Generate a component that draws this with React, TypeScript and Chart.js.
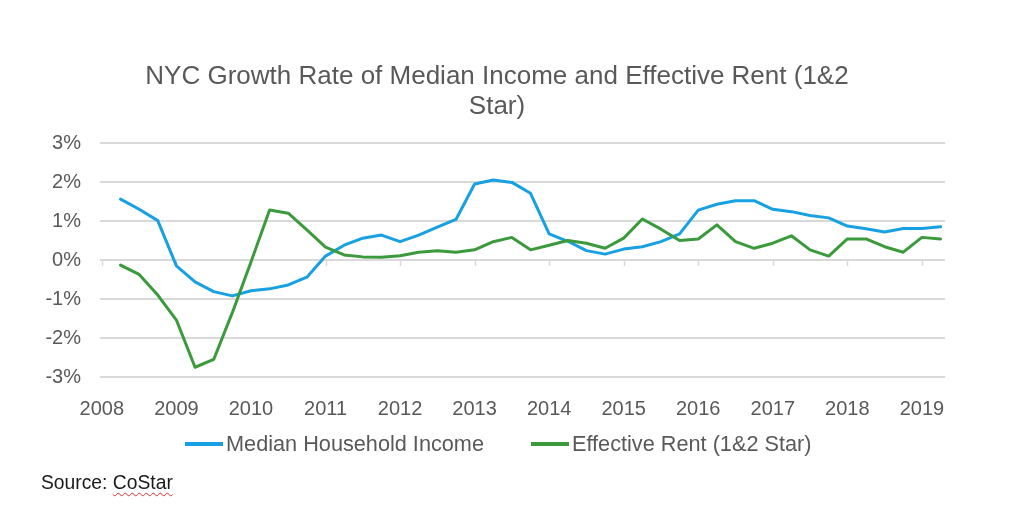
import React, { useEffect, useRef } from "react";
import { Chart, registerables } from "chart.js";

Chart.register(...registerables);

const FONT = "'Liberation Sans', Arial, Helvetica, sans-serif";

const chartTitle = ["NYC Growth Rate of Median Income and Effective Rent (1&2", "Star)"];
const seriesNames = ["Median Household Income", "Effective Rent (1&2 Star)"];
const seriesColors = ["#17a0e2", "#3b9a3b"];

const quarters = [
  "2008Q1", "2008Q2", "2008Q3", "2008Q4",
  "2009Q1", "2009Q2", "2009Q3", "2009Q4",
  "2010Q1", "2010Q2", "2010Q3", "2010Q4",
  "2011Q1", "2011Q2", "2011Q3", "2011Q4",
  "2012Q1", "2012Q2", "2012Q3", "2012Q4",
  "2013Q1", "2013Q2", "2013Q3", "2013Q4",
  "2014Q1", "2014Q2", "2014Q3", "2014Q4",
  "2015Q1", "2015Q2", "2015Q3", "2015Q4",
  "2016Q1", "2016Q2", "2016Q3", "2016Q4",
  "2017Q1", "2017Q2", "2017Q3", "2017Q4",
  "2018Q1", "2018Q2", "2018Q3", "2018Q4",
  "2019Q1",
];

const incomeGrowth = [
  1.56, 1.30, 1.01, -0.15,
  -0.56, -0.81, -0.92, -0.79,
  -0.74, -0.64, -0.44, 0.10,
  0.38, 0.56, 0.64, 0.47,
  0.64, 0.84, 1.04, 1.95,
  2.05, 1.99, 1.71, 0.67,
  0.48, 0.24, 0.15, 0.28,
  0.34, 0.47, 0.67, 1.28,
  1.43, 1.52, 1.52, 1.30,
  1.24, 1.14, 1.08, 0.87,
  0.80, 0.72, 0.81, 0.81,
  0.85,
];

const rentGrowth = [
  -0.13, -0.37, -0.90, -1.54,
  -2.75, -2.55, -1.35, -0.05,
  1.28, 1.20, 0.77, 0.33,
  0.13, 0.08, 0.07, 0.11,
  0.20, 0.24, 0.20, 0.26,
  0.47, 0.58, 0.26, 0.38,
  0.50, 0.43, 0.30, 0.56,
  1.05, 0.79, 0.50, 0.54,
  0.90, 0.47, 0.30, 0.43,
  0.62, 0.26, 0.10, 0.54,
  0.54, 0.34, 0.20, 0.58,
  0.54,
];

const yearTicks = [2008, 2009, 2010, 2011, 2012, 2013, 2014, 2015, 2016, 2017, 2018, 2019];
const percentTicks = [-3, -2, -1, 0, 1, 2, 3];

const quarterToYear = (q: string) => {
  const [y, n] = q.split("Q");
  return Number(y) + Number(n) / 4;
};

const zeroAxisTicks = {
  id: "zeroAxisTicks",
  beforeDatasetsDraw(chart: any) {
    const xs = chart.scales.x;
    const ys = chart.scales.y;
    const ctx = chart.ctx;
    const y0 = Math.round(ys.getPixelForValue(0));
    ctx.save();
    ctx.strokeStyle = "#d9d9d9";
    ctx.lineWidth = 1.5;
    xs.ticks.forEach((t: any) => {
      const px = Math.round(xs.getPixelForValue(t.value)) + 0.5;
      ctx.beginPath();
      ctx.moveTo(px, y0);
      ctx.lineTo(px, y0 + 6);
      ctx.stroke();
    });
    ctx.restore();
  },
};

export default function App() {
  const ref = useRef<HTMLCanvasElement>(null);

  useEffect(() => {
    const series = [incomeGrowth, rentGrowth];
    const chart = new Chart(ref.current as HTMLCanvasElement, {
      type: "line",
      data: {
        datasets: series.map((vals, si) => ({
          label: seriesNames[si],
          data: quarters.map((q, i) => ({ x: quarterToYear(q), y: vals[i] })),
          borderColor: seriesColors[si],
          backgroundColor: seriesColors[si],
          borderWidth: 3,
          pointRadius: 0,
          tension: 0,
          borderJoinStyle: "round" as const,
          borderCapStyle: "round" as const,
          order: si === 0 ? 2 : 1,
        })),
      },
      options: {
        responsive: false,
        animation: false,
        events: [],
        layout: { padding: { left: 0, right: 79, top: 143, bottom: 77 } },
        plugins: {
          legend: { display: false },
          tooltip: { enabled: false },
          title: { display: false },
        },
        scales: {
          x: {
            type: "linear",
            min: 2007.975,
            max: 2019.31,
            grid: { display: false },
            border: { display: false },
            afterBuildTicks: (s: any) => {
              s.ticks = yearTicks.map((v) => ({ value: v }));
            },
            afterFit: (s: any) => {
              s.height = 60;
            },
            ticks: {
              autoSkip: false,
              maxRotation: 0,
              padding: 12,
              color: "#595959",
              font: { family: FONT, size: 20 },
              callback: (v: any) => String(v),
            },
          },
          y: {
            min: -3,
            max: 3,
            grid: { color: "#d9d9d9", lineWidth: 2, drawTicks: false },
            border: { display: false },
            afterBuildTicks: (s: any) => {
              s.ticks = percentTicks.map((v) => ({ value: v }));
            },
            afterFit: (s: any) => {
              s.width = 100;
            },
            ticks: {
              padding: 19,
              color: "#595959",
              font: { family: FONT, size: 20 },
              callback: (v: any) => `${v}%`,
            },
          },
        },
      },
      plugins: [zeroAxisTicks],
    });
    return () => chart.destroy();
  }, []);

  return (
    <div
      style={{
        position: "absolute",
        left: 0,
        top: 0,
        width: 1024,
        height: 514,
        background: "#fff",
        fontFamily: FONT,
        overflow: "hidden",
      }}
    >
      <canvas ref={ref} width={1024} height={514} style={{ display: "block", width: 1024, height: 514 }} />
      <div
        style={{
          position: "absolute",
          left: 0,
          top: 59.5,
          width: 994,
          textAlign: "center",
          fontSize: 26,
          lineHeight: "30px",
          color: "#595959",
          whiteSpace: "nowrap",
        }}
      >
        {chartTitle.map((line) => (
          <div key={line}>{line}</div>
        ))}
      </div>
      <div
        style={{
          position: "absolute",
          left: 185,
          top: 431,
          display: "flex",
          alignItems: "center",
          fontSize: 21.7,
          lineHeight: "26px",
          color: "#595959",
          whiteSpace: "nowrap",
        }}
      >
        {seriesNames.map((name, i) => (
          <div key={name} style={{ display: "flex", alignItems: "center", marginRight: i === 0 ? 47 : 0 }}>
            <span style={{ display: "inline-block", width: 38, height: 4, background: seriesColors[i], marginRight: 3 }} />
            <span>{name}</span>
          </div>
        ))}
      </div>
      <div
        style={{
          position: "absolute",
          left: 41,
          top: 472,
          fontSize: 19.3,
          lineHeight: "22px",
          color: "#1a1a1a",
          whiteSpace: "nowrap",
        }}
      >
        Source:{" "}
        <span
          style={{
            textDecorationLine: "underline",
            textDecorationStyle: "wavy",
            textDecorationColor: "#e03030",
            textDecorationThickness: "1px",
            textUnderlineOffset: "3px",
          }}
        >
          CoStar
        </span>
      </div>
    </div>
  );
}
